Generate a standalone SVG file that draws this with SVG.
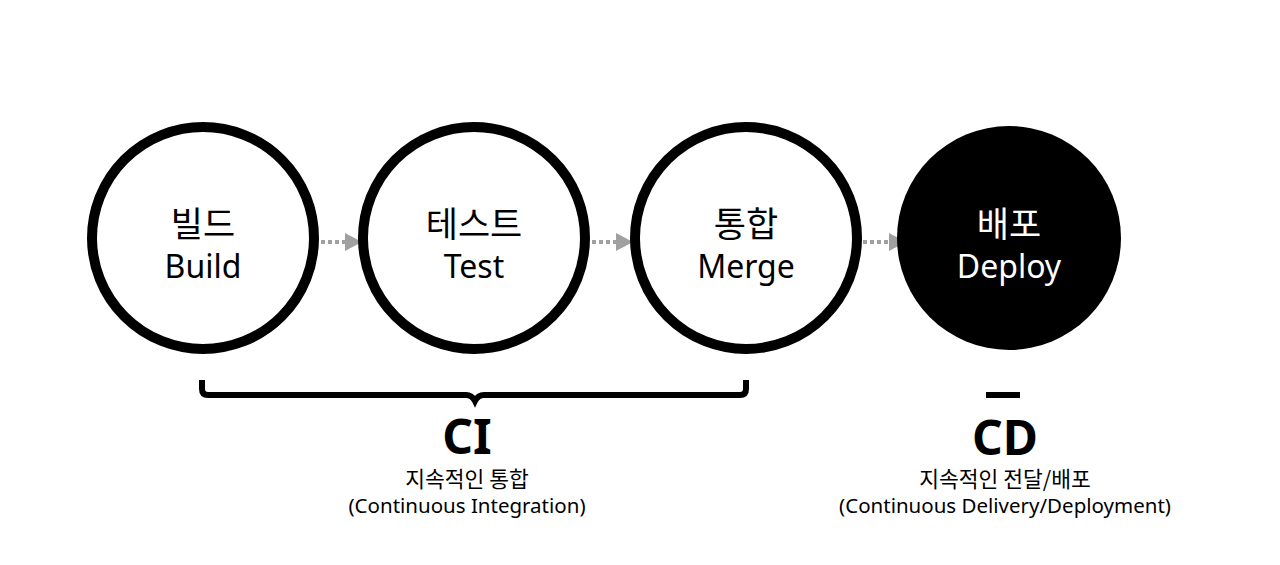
<svg xmlns="http://www.w3.org/2000/svg" width="1280" height="565" viewBox="0 0 1280 565">
<defs>
<style>
.node{fill:#fff;stroke:#000;stroke-width:10}
.lbl{font-family:"Noto Sans","Noto Sans CJK KR",sans-serif;font-size:32px;text-anchor:middle;fill:#000}
.ko{font-family:"Noto Sans CJK KR",sans-serif;font-size:35px;text-anchor:middle;fill:#000}
.white{fill:#fff}
.conn{stroke:#a0a0a0;stroke-width:4;stroke-dasharray:4 3;fill:none}
.head{fill:#a0a0a0}
.big{font-family:"Noto Sans","Noto Sans CJK KR",sans-serif;font-weight:bold;font-size:48px;text-anchor:middle;fill:#000}
.sub{font-family:"Noto Sans","Noto Sans CJK KR",sans-serif;font-size:20.5px;text-anchor:middle;fill:#000}
.subko{font-family:"Noto Sans CJK KR",sans-serif;font-size:21.5px;text-anchor:middle;fill:#000}
</style>
</defs>
<rect width="1280" height="565" fill="#fff"/>
<g id="connectors">
<line class="conn" x1="321" y1="242" x2="346" y2="242"/>
<polygon class="head" points="345,233 362,242 345,251"/>
<line class="conn" x1="592" y1="242" x2="617" y2="242"/>
<polygon class="head" points="616,233 633,242 616,251"/>
<line class="conn" x1="863" y1="242" x2="890" y2="242"/>
<polygon class="head" points="889,233 906,242 889,251"/>
</g>
<g id="build">
<circle class="node" cx="203" cy="238" r="111"/>
<text class="ko" x="203" y="237">빌드</text>
<text class="lbl" x="203" y="278">Build</text>
</g>
<g id="test">
<circle class="node" cx="474" cy="238" r="111"/>
<text class="ko" x="474" y="237">테스트</text>
<text class="lbl" x="474" y="278">Test</text>
</g>
<g id="merge">
<circle class="node" cx="746" cy="238" r="111"/>
<text class="ko" x="746" y="237">통합</text>
<text class="lbl" x="746" y="278">Merge</text>
</g>
<g id="deploy">
<circle cx="1009" cy="238" r="112" fill="#000"/>
<text class="ko white" x="1009" y="237">배포</text>
<text class="lbl white" x="1009" y="278">Deploy</text>
</g>
<g id="ci">
<path d="M202,380 V389 Q202,395 208,395 H466 Q472,395 475,401 Q478,395 484,395 H740 Q746,395 746,389 V380" fill="none" stroke="#000" stroke-width="6"/>
<text class="big" x="467" y="454">CI</text>
<text class="subko" x="467" y="487">지속적인 통합</text>
<text class="sub" x="467" y="513">(Continuous Integration)</text>
</g>
<g id="cd">
<rect x="986" y="392" width="34" height="6" fill="#000"/>
<text class="big" x="1005" y="455">CD</text>
<text class="subko" x="1005" y="487">지속적인 전달/배포</text>
<text class="sub" x="1005" y="513">(Continuous Delivery/Deployment)</text>
</g>
</svg>
